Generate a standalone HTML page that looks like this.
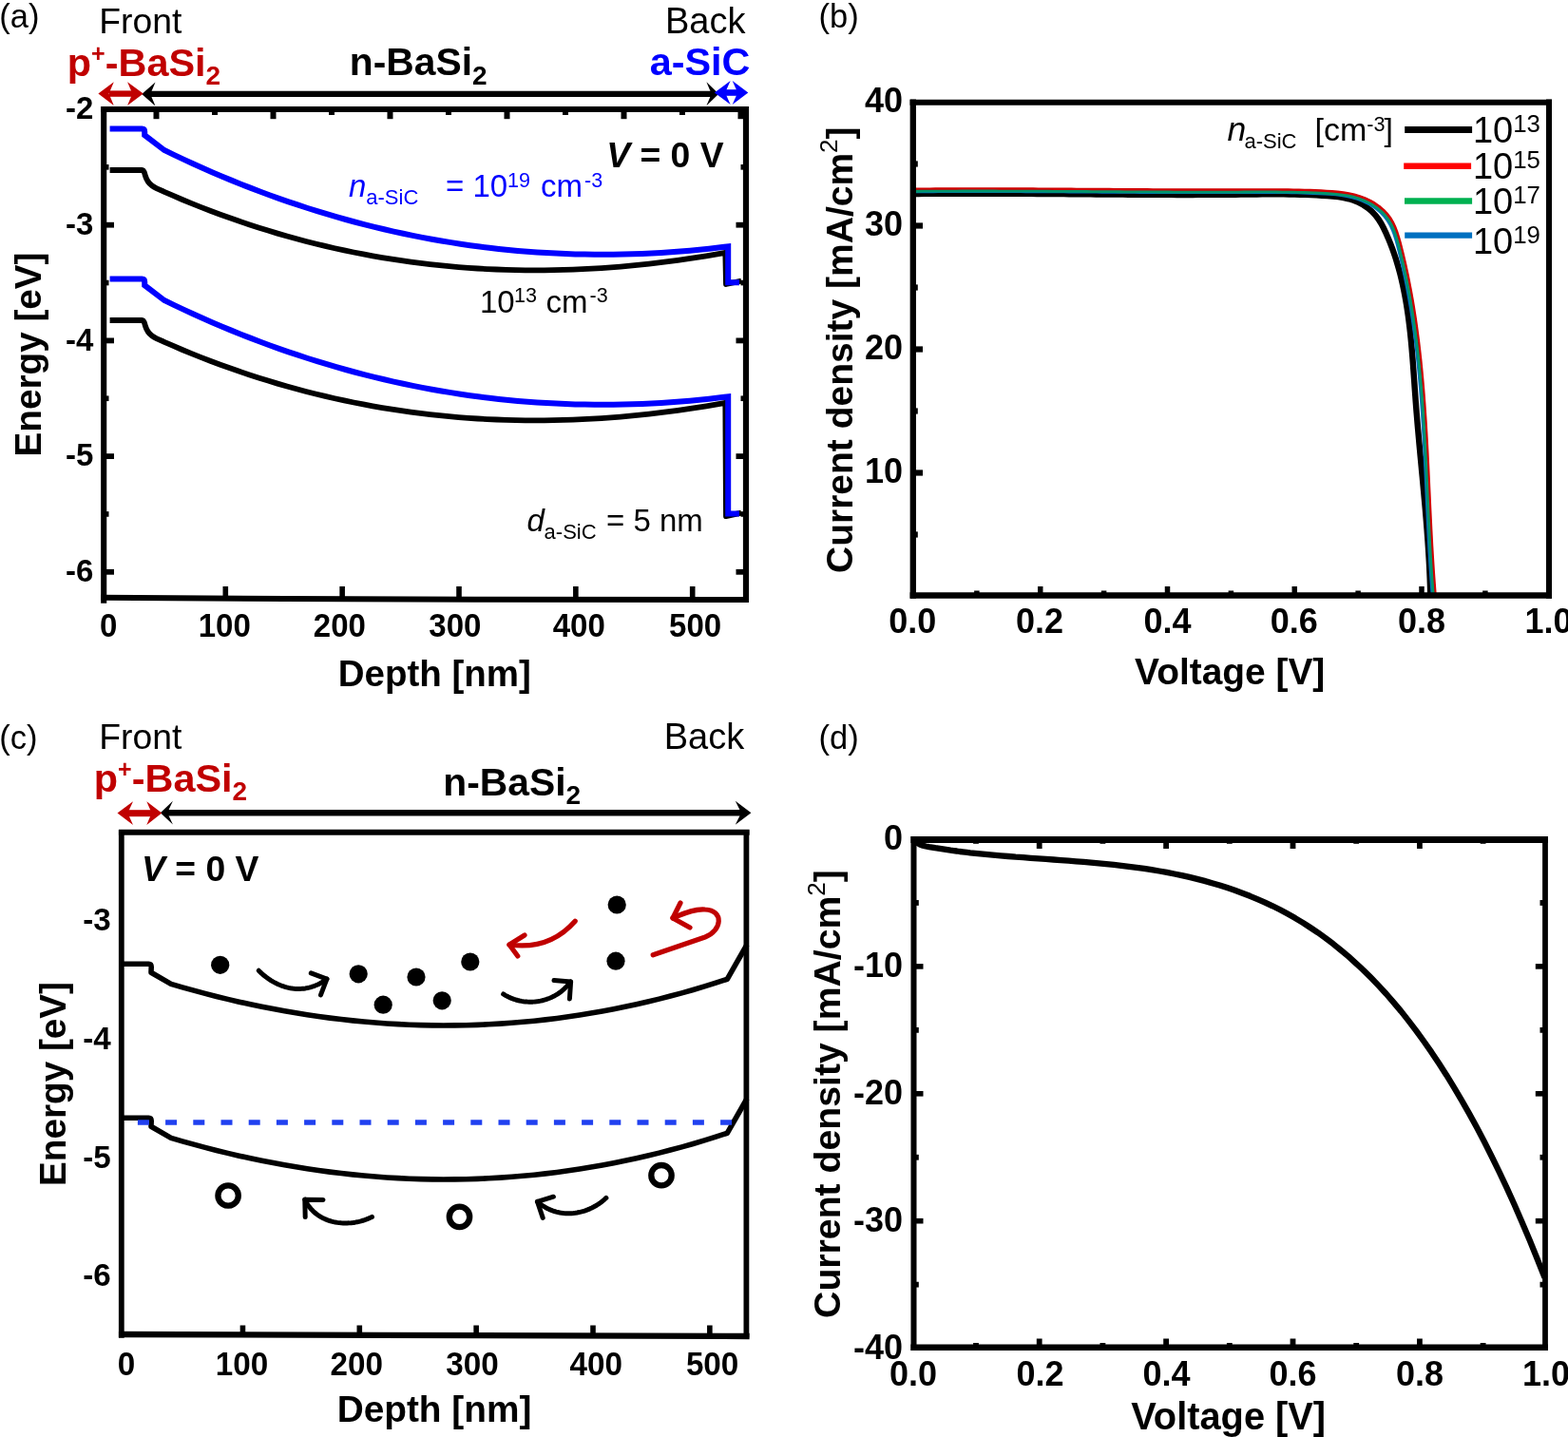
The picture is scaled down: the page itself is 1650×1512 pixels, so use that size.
<!DOCTYPE html>
<html><head><meta charset="utf-8"><title>Figure</title>
<style>
html,body{margin:0;padding:0;background:#fff;}
body{width:1650px;height:1512px;overflow:hidden;}
svg{display:block;}
text{font-family:'Liberation Sans', Arial, Helvetica, sans-serif;}
</style></head>
<body>
<svg width="1650" height="1512" viewBox="0 0 1650 1512">
<rect width="1650" height="1512" fill="#fff"/>
<path d="M115.6,179 L149.4,179 C151.6,179 152,182 152.8,184.6 C154,188.5 156,192.5 160,195.4 C163.5,198 167.5,199.6 171.7,201.2 L171.7,201.32 181.73,205.71 191.75,209.96 201.78,214.09 211.81,218.08 221.84,221.96 231.86,225.71 241.89,229.33 251.92,232.83 261.94,236.21 271.97,239.47 282,242.6 292.03,245.62 302.05,248.51 312.08,251.29 322.11,253.95 332.13,256.49 342.16,258.91 352.19,261.22 362.22,263.41 372.24,265.49 382.27,267.46 392.3,269.31 402.32,271.05 412.35,272.68 422.38,274.2 432.41,275.62 442.43,276.92 452.46,278.11 462.49,279.2 472.51,280.18 482.54,281.05 492.57,281.82 502.59,282.49 512.62,283.05 522.65,283.51 532.68,283.87 542.7,284.13 552.73,284.28 562.76,284.34 572.78,284.3 582.81,284.16 592.84,283.93 602.87,283.6 612.89,283.17 622.92,282.65 632.95,282.03 642.97,281.32 653,280.52 663.03,279.62 673.06,278.64 683.08,277.57 693.11,276.4 703.14,275.15 713.16,273.81 723.19,272.38 733.22,270.87 743.25,269.27 753.27,267.59 763.3,265.82 L764,299 L780,295.7" fill="none" stroke="#000" stroke-width="5.8" stroke-linejoin="round" stroke-linecap="butt" />
<path d="M115.6,337 L149.4,337 C151.6,337 152,340 152.8,342.6 C154,346.5 156,350.5 160,353.4 C163.5,356 167.5,357.6 171.7,359.2 L171.7,359.32 181.73,363.71 191.75,367.96 201.78,372.09 211.81,376.08 221.84,379.96 231.86,383.71 241.89,387.33 251.92,390.83 261.94,394.21 271.97,397.47 282,400.6 292.03,403.62 302.05,406.51 312.08,409.29 322.11,411.95 332.13,414.49 342.16,416.91 352.19,419.22 362.22,421.41 372.24,423.49 382.27,425.46 392.3,427.31 402.32,429.05 412.35,430.68 422.38,432.2 432.41,433.62 442.43,434.92 452.46,436.11 462.49,437.2 472.51,438.18 482.54,439.05 492.57,439.82 502.59,440.49 512.62,441.05 522.65,441.51 532.68,441.87 542.7,442.13 552.73,442.28 562.76,442.34 572.78,442.3 582.81,442.16 592.84,441.93 602.87,441.6 612.89,441.17 622.92,440.65 632.95,440.03 642.97,439.32 653,438.52 663.03,437.62 673.06,436.64 683.08,435.57 693.11,434.4 703.14,433.15 713.16,431.81 723.19,430.38 733.22,428.87 743.25,427.27 753.27,425.59 763.3,423.82 L764,543.2 L780,539.6" fill="none" stroke="#000" stroke-width="5.8" stroke-linejoin="round" stroke-linecap="butt" />
<path d="M115.6,135.6 L149.4,135.6 Q152.2,135.6 152.2,138.6 L152.2,142.2 L172.9,158.02 182.96,162.88 193.01,167.63 203.07,172.26 213.12,176.78 223.18,181.18 233.24,185.47 243.29,189.64 253.35,193.7 263.4,197.65 273.46,201.49 283.52,205.21 293.57,208.82 303.63,212.33 313.68,215.71 323.74,218.99 333.79,222.16 343.85,225.22 353.91,228.17 363.96,231.01 374.02,233.74 384.07,236.37 394.13,238.88 404.19,241.29 414.24,243.59 424.3,245.78 434.35,247.87 444.41,249.85 454.47,251.72 464.52,253.49 474.58,255.15 484.63,256.71 494.69,258.17 504.75,259.52 514.8,260.77 524.86,261.91 534.91,262.95 544.97,263.89 555.03,264.72 565.08,265.46 575.14,266.09 585.19,266.62 595.25,267.06 605.31,267.39 615.36,267.62 625.42,267.75 635.47,267.78 645.53,267.71 655.58,267.55 665.64,267.29 675.7,266.93 685.75,266.47 695.81,265.91 705.86,265.26 715.92,264.51 725.98,263.67 736.03,262.73 746.09,261.7 756.14,260.57 766.2,259.34 L766.2,297.2 L778,297.2" fill="none" stroke="#0000FF" stroke-width="6" stroke-linejoin="miter" stroke-linecap="butt" />
<path d="M115.6,293.6 L149.4,293.6 Q152.2,293.6 152.2,296.6 L152.2,300.2 L172.9,316.02 182.96,320.88 193.01,325.63 203.07,330.26 213.12,334.78 223.18,339.18 233.24,343.47 243.29,347.64 253.35,351.7 263.4,355.65 273.46,359.49 283.52,363.21 293.57,366.82 303.63,370.33 313.68,373.71 323.74,376.99 333.79,380.16 343.85,383.22 353.91,386.17 363.96,389.01 374.02,391.74 384.07,394.37 394.13,396.88 404.19,399.29 414.24,401.59 424.3,403.78 434.35,405.87 444.41,407.85 454.47,409.72 464.52,411.49 474.58,413.15 484.63,414.71 494.69,416.17 504.75,417.52 514.8,418.77 524.86,419.91 534.91,420.95 544.97,421.89 555.03,422.72 565.08,423.46 575.14,424.09 585.19,424.62 595.25,425.06 605.31,425.39 615.36,425.62 625.42,425.75 635.47,425.78 645.53,425.71 655.58,425.55 665.64,425.29 675.7,424.93 685.75,424.47 695.81,423.91 705.86,423.26 715.92,422.51 725.98,421.67 736.03,420.73 746.09,419.7 756.14,418.57 766.2,417.34 L766.2,540.4 L778,540.4" fill="none" stroke="#0000FF" stroke-width="6" stroke-linejoin="miter" stroke-linecap="butt" />
<line x1="109.2" y1="112" x2="109.2" y2="634.7" stroke="#000" stroke-width="6.1" stroke-linecap="butt"/>
<line x1="106.2" y1="115" x2="788" y2="115" stroke="#000" stroke-width="5.8" stroke-linecap="butt"/>
<line x1="785" y1="112" x2="785" y2="632" stroke="#000" stroke-width="6.2" stroke-linecap="butt"/>
<polyline points="106.2,628.8 300,630 500,630.8 788,631" fill="none" stroke="#000" stroke-width="6" stroke-linejoin="miter" stroke-linecap="butt" />
<line x1="237.3" y1="617" x2="237.3" y2="628" stroke="#000" stroke-width="5.6" stroke-linecap="butt"/>
<line x1="360.15" y1="617" x2="360.15" y2="628" stroke="#000" stroke-width="5.6" stroke-linecap="butt"/>
<line x1="483" y1="617" x2="483" y2="628" stroke="#000" stroke-width="5.6" stroke-linecap="butt"/>
<line x1="605.85" y1="617" x2="605.85" y2="628" stroke="#000" stroke-width="5.6" stroke-linecap="butt"/>
<line x1="728.7" y1="617" x2="728.7" y2="628" stroke="#000" stroke-width="5.6" stroke-linecap="butt"/>
<line x1="109.2" y1="236.7" x2="120" y2="236.7" stroke="#000" stroke-width="5.8" stroke-linecap="butt"/>
<line x1="774.5" y1="236.7" x2="785" y2="236.7" stroke="#000" stroke-width="5.8" stroke-linecap="butt"/>
<line x1="109.2" y1="358.4" x2="120" y2="358.4" stroke="#000" stroke-width="5.8" stroke-linecap="butt"/>
<line x1="774.5" y1="358.4" x2="785" y2="358.4" stroke="#000" stroke-width="5.8" stroke-linecap="butt"/>
<line x1="109.2" y1="480.1" x2="120" y2="480.1" stroke="#000" stroke-width="5.8" stroke-linecap="butt"/>
<line x1="774.5" y1="480.1" x2="785" y2="480.1" stroke="#000" stroke-width="5.8" stroke-linecap="butt"/>
<line x1="109.2" y1="601.8" x2="120" y2="601.8" stroke="#000" stroke-width="5.8" stroke-linecap="butt"/>
<line x1="774.5" y1="601.8" x2="785" y2="601.8" stroke="#000" stroke-width="5.8" stroke-linecap="butt"/>
<line x1="109.2" y1="175.85" x2="114.5" y2="175.85" stroke="#000" stroke-width="5.6" stroke-linecap="butt"/>
<line x1="779.5" y1="175.85" x2="785" y2="175.85" stroke="#000" stroke-width="5.6" stroke-linecap="butt"/>
<line x1="109.2" y1="297.55" x2="114.5" y2="297.55" stroke="#000" stroke-width="5.6" stroke-linecap="butt"/>
<line x1="779.5" y1="297.55" x2="785" y2="297.55" stroke="#000" stroke-width="5.6" stroke-linecap="butt"/>
<line x1="109.2" y1="419.25" x2="114.5" y2="419.25" stroke="#000" stroke-width="5.6" stroke-linecap="butt"/>
<line x1="779.5" y1="419.25" x2="785" y2="419.25" stroke="#000" stroke-width="5.6" stroke-linecap="butt"/>
<line x1="109.2" y1="540.95" x2="114.5" y2="540.95" stroke="#000" stroke-width="5.6" stroke-linecap="butt"/>
<line x1="779.5" y1="540.95" x2="785" y2="540.95" stroke="#000" stroke-width="5.6" stroke-linecap="butt"/>
<line x1="164.5" y1="115" x2="164.5" y2="125.2" stroke="#000" stroke-width="6" stroke-linecap="butt"/>
<line x1="226" y1="115" x2="226" y2="121" stroke="#000" stroke-width="6" stroke-linecap="butt"/>
<line x1="287.5" y1="115" x2="287.5" y2="125.2" stroke="#000" stroke-width="6" stroke-linecap="butt"/>
<line x1="349" y1="115" x2="349" y2="121" stroke="#000" stroke-width="6" stroke-linecap="butt"/>
<line x1="410.5" y1="115" x2="410.5" y2="125.2" stroke="#000" stroke-width="6" stroke-linecap="butt"/>
<line x1="472" y1="115" x2="472" y2="121" stroke="#000" stroke-width="6" stroke-linecap="butt"/>
<line x1="533.5" y1="115" x2="533.5" y2="125.2" stroke="#000" stroke-width="6" stroke-linecap="butt"/>
<line x1="595" y1="115" x2="595" y2="121" stroke="#000" stroke-width="6" stroke-linecap="butt"/>
<line x1="656.5" y1="115" x2="656.5" y2="125.2" stroke="#000" stroke-width="6" stroke-linecap="butt"/>
<line x1="718" y1="115" x2="718" y2="121" stroke="#000" stroke-width="6" stroke-linecap="butt"/>
<line x1="779.5" y1="115" x2="779.5" y2="125.2" stroke="#000" stroke-width="6" stroke-linecap="butt"/>
<text x="-0.8" y="28.8" font-size="34.5">(a)</text>
<text x="104.3" y="34.5" font-size="37.3">Front</text>
<text x="784.4" y="34.5" font-size="38" text-anchor="end">Back</text>
<line x1="158" y1="98.9" x2="750" y2="98.9" stroke="#000" stroke-width="6.2" stroke-linecap="butt"/>
<path d="M149.2,98.9 L163.5,86.4 L158.2,98.9 L163.5,111.4Z" fill="#000"/>
<path d="M756.3,98.8 L743.4,86.35 L748.7,98.8 L743.4,111.25Z" fill="#000"/>
<line x1="115" y1="98.6" x2="145" y2="98.6" stroke="#C00000" stroke-width="6.4" stroke-linecap="butt"/>
<path d="M103.4,98.6 L119.8,86.2 L114.6,98.6 L119.8,111Z" fill="#C00000"/>
<path d="M150.8,98.6 L134.1,86.2 L139.3,98.6 L134.1,111Z" fill="#C00000"/>
<line x1="762" y1="97.5" x2="777" y2="97.5" stroke="#0000FF" stroke-width="6.6" stroke-linecap="butt"/>
<path d="M751.8,97.5 L768.6,85 L763.1,97.5 L768.6,110Z" fill="#0000FF"/>
<path d="M787.3,97.5 L770.7,85 L776.2,97.5 L770.7,110Z" fill="#0000FF"/>
<text x="70.8" y="79.5" font-size="41.4" font-weight="bold" fill="#C00000">p<tspan font-size="25" dy="-15">+</tspan><tspan dy="15">-BaSi</tspan><tspan font-size="28" dy="9.5">2</tspan></text>
<text x="367.8" y="79.4" font-size="40.8" font-weight="bold">n-BaSi<tspan font-size="28" dy="9.5">2</tspan></text>
<text x="683.7" y="79.4" font-size="41.4" font-weight="bold" fill="#0000FF">a-SiC</text>
<text x="98.3" y="125.3" font-size="33" font-weight="bold" text-anchor="end">-2</text>
<text x="98.3" y="247" font-size="33" font-weight="bold" text-anchor="end">-3</text>
<text x="98.3" y="368.7" font-size="33" font-weight="bold" text-anchor="end">-4</text>
<text x="98.3" y="490.4" font-size="33" font-weight="bold" text-anchor="end">-5</text>
<text x="98.3" y="612.1" font-size="33" font-weight="bold" text-anchor="end">-6</text>
<text transform="translate(114.2,669.8) scale(1,1.065)" font-size="33" font-weight="bold" text-anchor="middle">0</text>
<text transform="translate(236.2,669.8) scale(1,1.065)" font-size="33" font-weight="bold" text-anchor="middle">100</text>
<text transform="translate(357.3,669.8) scale(1,1.065)" font-size="33" font-weight="bold" text-anchor="middle">200</text>
<text transform="translate(478.8,669.8) scale(1,1.065)" font-size="33" font-weight="bold" text-anchor="middle">300</text>
<text transform="translate(609.2,669.8) scale(1,1.065)" font-size="33" font-weight="bold" text-anchor="middle">400</text>
<text transform="translate(731.6,669.8) scale(1,1.065)" font-size="33" font-weight="bold" text-anchor="middle">500</text>
<text x="457.3" y="722.4" font-size="38.5" font-weight="bold" text-anchor="middle">Depth [nm]</text>
<text transform="translate(43.2,373) rotate(-90)" font-size="38.7" font-weight="bold" text-anchor="middle">Energy [eV]</text>
<text x="638.2" y="175.8" font-size="37.3" font-weight="bold"><tspan font-style="italic">V</tspan> = 0 V</text>
<text x="367" y="206.9" font-size="33" font-style="italic" fill="#0000FF">n</text>
<text x="385.3" y="214.6" font-size="22" fill="#0000FF">a-SiC</text>
<text x="469" y="206.9" font-size="33" fill="#0000FF">= 10</text>
<text x="534" y="197.4" font-size="21.5" fill="#0000FF">19</text>
<text x="569" y="206.9" font-size="33" fill="#0000FF">cm</text>
<text x="615" y="197.4" font-size="21.5" fill="#0000FF">-3</text>
<text x="505" y="328.5" font-size="33">10</text>
<text x="541" y="318" font-size="21.5">13</text>
<text x="574.5" y="328.5" font-size="33">cm</text>
<text x="620.5" y="318" font-size="21.5">-3</text>
<text x="554.5" y="558.7" font-size="33" font-style="italic">d</text>
<text x="572.6" y="566.8" font-size="22">a-SiC</text>
<text x="638" y="558.7" font-size="33">= 5 nm</text>
<path d="M961.01,204.03 966.64,203.96 972.26,203.91 977.89,203.86 983.53,203.81 989.16,203.78 994.8,203.75 1000.44,203.72 1006.08,203.7 1011.73,203.69 1017.38,203.68 1023.03,203.68 1028.68,203.68 1034.33,203.69 1039.99,203.7 1045.65,203.72 1051.3,203.73 1056.97,203.76 1062.63,203.78 1068.29,203.81 1073.96,203.84 1079.62,203.88 1085.29,203.92 1090.95,203.95 1096.62,204 1102.29,204.04 1107.96,204.08 1113.63,204.13 1119.3,204.17 1124.97,204.22 1130.64,204.27 1136.31,204.32 1141.98,204.36 1147.65,204.41 1153.32,204.46 1158.98,204.5 1164.65,204.55 1170.32,204.59 1175.99,204.63 1181.65,204.67 1187.32,204.71 1192.98,204.75 1198.64,204.78 1204.3,204.81 1209.96,204.84 1215.62,204.87 1221.27,204.89 1226.93,204.91 1232.58,204.92 1238.23,204.93 1243.88,204.94 1249.52,204.94 1255.17,204.93 1260.81,204.92 1266.44,204.91 1272.08,204.89 1277.71,204.86 1283.34,204.83 1288.97,204.79 1294.59,204.74 1300.21,204.69 1305.83,204.63 1311.44,204.57 1317.06,204.51 1322.68,204.46 1328.3,204.41 1333.93,204.38 1339.57,204.36 1345.21,204.37 1350.87,204.4 1356.54,204.46 1362.23,204.56 1367.93,204.69 1373.65,204.87 1379.39,205.09 1385.16,205.36 1390.95,205.68 1396.76,206.06 1402.59,206.53 1408.38,207.17 1414.07,208.07 1419.62,209.3 1424.97,210.96 1430.06,213.11 1434.88,215.76 1439.38,218.87 1443.53,222.43 1447.29,226.42 1450.65,230.81 1453.61,235.56 1456.25,240.57 1458.66,245.71 1460.93,250.91 1463.06,256.15 1465.07,261.43 1466.96,266.74 1468.73,272.08 1470.39,277.45 1471.94,282.85 1473.39,288.29 1474.74,293.75 1476,299.23 1477.17,304.74 1478.26,310.27 1479.27,315.82 1480.2,321.39 1481.06,326.98 1481.86,332.59 1482.6,338.21 1483.29,343.84 1483.93,349.49 1484.52,355.15 1485.07,360.81 1485.58,366.49 1486.06,372.17 1486.52,377.85 1486.95,383.54 1487.37,389.23 1487.78,394.92 1488.18,400.6 1488.57,406.29 1488.97,411.97 1489.38,417.64 1489.8,423.31 1490.23,428.97 1490.68,434.61 1491.15,440.26 1491.62,445.89 1492.11,451.52 1492.61,457.14 1493.11,462.76 1493.62,468.37 1494.14,473.98 1494.66,479.58 1495.19,485.18 1495.71,490.78 1496.24,496.38 1496.77,501.98 1497.29,507.57 1497.81,513.17 1498.32,518.77 1498.83,524.36 1499.33,529.97 1499.82,535.57 1500.29,541.18 1500.76,546.79 1501.21,552.4 1501.65,558.02 1502.07,563.65 1502.48,569.28 1502.86,574.92 1503.23,580.56 1503.57,586.22 1503.89,591.88 1504.19,597.55 1504.46,603.23 1504.7,608.93 1504.91,614.63 1505.1,620.34 1505.25,626.07" fill="none" stroke="#000" stroke-width="6.4" stroke-linejoin="round" stroke-linecap="butt" />
<path d="M961.52,200.13 967.19,200.07 972.88,200.02 978.56,199.98 984.25,199.94 989.94,199.91 995.64,199.88 1001.34,199.85 1007.04,199.84 1012.74,199.82 1018.45,199.81 1024.16,199.81 1029.87,199.8 1035.59,199.8 1041.3,199.81 1047.02,199.82 1052.74,199.83 1058.46,199.84 1064.19,199.86 1069.92,199.88 1075.64,199.91 1081.37,199.93 1087.1,199.96 1092.83,199.99 1098.56,200.02 1104.3,200.05 1110.03,200.09 1115.76,200.12 1121.5,200.16 1127.23,200.2 1132.97,200.23 1138.7,200.27 1144.44,200.31 1150.17,200.35 1155.9,200.39 1161.64,200.43 1167.37,200.47 1173.1,200.51 1178.83,200.55 1184.56,200.58 1190.29,200.62 1196.01,200.65 1201.74,200.69 1207.46,200.72 1213.18,200.75 1218.9,200.78 1224.62,200.8 1230.34,200.82 1236.05,200.85 1241.76,200.86 1247.47,200.88 1253.17,200.89 1258.88,200.9 1264.58,200.91 1270.27,200.91 1275.97,200.91 1281.66,200.9 1287.34,200.89 1293.02,200.88 1298.7,200.86 1304.38,200.84 1310.05,200.82 1315.72,200.79 1321.39,200.77 1327.07,200.76 1332.74,200.76 1338.43,200.77 1344.12,200.79 1349.81,200.84 1355.52,200.9 1361.24,201 1366.98,201.12 1372.73,201.28 1378.49,201.46 1384.28,201.69 1390.08,201.96 1395.9,202.28 1401.75,202.65 1407.59,203.14 1413.4,203.82 1419.15,204.76 1424.83,206.01 1430.39,207.64 1435.8,209.67 1440.99,212.08 1445.92,214.88 1450.53,218.06 1454.76,221.64 1458.57,225.59 1461.89,229.94 1464.7,234.65 1467.05,239.68 1469.05,244.95 1470.77,250.41 1472.31,255.96 1473.75,261.56 1475.14,267.17 1476.48,272.77 1477.77,278.39 1479.01,284.01 1480.21,289.63 1481.36,295.26 1482.46,300.89 1483.53,306.52 1484.55,312.16 1485.53,317.81 1486.47,323.46 1487.37,329.11 1488.24,334.76 1489.06,340.42 1489.86,346.08 1490.61,351.75 1491.34,357.42 1492.03,363.09 1492.7,368.76 1493.33,374.44 1493.94,380.12 1494.51,385.81 1495.06,391.49 1495.59,397.18 1496.09,402.87 1496.57,408.56 1497.03,414.26 1497.47,419.95 1497.89,425.65 1498.29,431.35 1498.67,437.05 1499.04,442.76 1499.39,448.46 1499.73,454.17 1500.05,459.87 1500.37,465.58 1500.67,471.29 1500.97,477 1501.25,482.71 1501.54,488.42 1501.81,494.13 1502.08,499.85 1502.35,505.56 1502.61,511.27 1502.87,516.98 1503.14,522.7 1503.4,528.41 1503.66,534.12 1503.93,539.83 1504.21,545.54 1504.49,551.25 1504.77,556.96 1505.07,562.67 1505.37,568.38 1505.68,574.08 1506.01,579.79 1506.35,585.49 1506.7,591.19 1507.06,596.89 1507.44,602.59 1507.84,608.29 1508.26,613.99 1508.69,619.68 1509.15,625.37" fill="none" stroke="#D00000" stroke-width="5.2" stroke-linejoin="round" stroke-linecap="butt" />
<path d="M959.42,202.03 965.09,201.97 970.78,201.92 976.46,201.88 982.15,201.84 987.84,201.81 993.54,201.78 999.24,201.75 1004.94,201.74 1010.64,201.72 1016.35,201.71 1022.06,201.71 1027.77,201.7 1033.49,201.7 1039.2,201.71 1044.92,201.72 1050.64,201.73 1056.36,201.74 1062.09,201.76 1067.82,201.78 1073.54,201.81 1079.27,201.83 1085,201.86 1090.73,201.89 1096.46,201.92 1102.2,201.95 1107.93,201.99 1113.66,202.02 1119.4,202.06 1125.13,202.1 1130.87,202.13 1136.6,202.17 1142.34,202.21 1148.07,202.25 1153.8,202.29 1159.54,202.33 1165.27,202.37 1171,202.41 1176.73,202.45 1182.46,202.48 1188.19,202.52 1193.91,202.55 1199.64,202.59 1205.36,202.62 1211.08,202.65 1216.8,202.68 1222.52,202.7 1228.24,202.72 1233.95,202.75 1239.66,202.76 1245.37,202.78 1251.07,202.79 1256.78,202.8 1262.48,202.81 1268.17,202.81 1273.87,202.81 1279.56,202.8 1285.24,202.79 1290.92,202.78 1296.6,202.76 1302.28,202.74 1307.95,202.72 1313.62,202.69 1319.29,202.67 1324.97,202.66 1330.64,202.66 1336.33,202.67 1342.02,202.69 1347.71,202.74 1353.42,202.8 1359.14,202.9 1364.88,203.02 1370.63,203.18 1376.39,203.36 1382.18,203.59 1387.98,203.86 1393.8,204.18 1399.65,204.55 1405.49,205.04 1411.3,205.72 1417.05,206.66 1422.73,207.91 1428.29,209.54 1433.7,211.57 1438.89,213.98 1443.82,216.78 1448.43,219.96 1452.66,223.54 1456.47,227.49 1459.79,231.84 1462.6,236.55 1464.95,241.58 1466.95,246.85 1468.67,252.31 1470.21,257.86 1471.65,263.46 1473.04,269.07 1474.38,274.67 1475.67,280.29 1476.91,285.91 1478.11,291.53 1479.26,297.16 1480.36,302.79 1481.43,308.42 1482.45,314.06 1483.43,319.71 1484.37,325.36 1485.27,331.01 1486.14,336.66 1486.96,342.32 1487.76,347.98 1488.51,353.65 1489.24,359.32 1489.93,364.99 1490.6,370.66 1491.23,376.34 1491.84,382.02 1492.41,387.71 1492.96,393.39 1493.49,399.08 1493.99,404.77 1494.47,410.46 1494.93,416.16 1495.37,421.85 1495.79,427.55 1496.19,433.25 1496.57,438.95 1496.94,444.66 1497.29,450.36 1497.63,456.07 1497.95,461.77 1498.27,467.48 1498.57,473.19 1498.87,478.9 1499.15,484.61 1499.44,490.32 1499.71,496.03 1499.98,501.75 1500.25,507.46 1500.51,513.17 1500.77,518.88 1501.04,524.6 1501.3,530.31 1501.56,536.02 1501.83,541.73 1502.11,547.44 1502.39,553.15 1502.67,558.86 1502.97,564.57 1503.27,570.28 1503.58,575.98 1503.91,581.69 1504.25,587.39 1504.6,593.09 1504.96,598.79 1505.34,604.49 1505.74,610.19 1506.16,615.89 1506.59,621.58 1507.05,627.27" fill="none" stroke="#0070C0" stroke-width="2.6" stroke-linejoin="round" stroke-linecap="butt" />
<path d="M960.72,201.33 966.39,201.27 972.08,201.22 977.76,201.18 983.45,201.14 989.14,201.11 994.84,201.08 1000.54,201.05 1006.24,201.04 1011.94,201.02 1017.65,201.01 1023.36,201.01 1029.07,201 1034.79,201 1040.5,201.01 1046.22,201.02 1051.94,201.03 1057.66,201.04 1063.39,201.06 1069.12,201.08 1074.84,201.11 1080.57,201.13 1086.3,201.16 1092.03,201.19 1097.76,201.22 1103.5,201.25 1109.23,201.29 1114.96,201.32 1120.7,201.36 1126.43,201.4 1132.17,201.43 1137.9,201.47 1143.64,201.51 1149.37,201.55 1155.1,201.59 1160.84,201.63 1166.57,201.67 1172.3,201.71 1178.03,201.75 1183.76,201.78 1189.49,201.82 1195.21,201.85 1200.94,201.89 1206.66,201.92 1212.38,201.95 1218.1,201.98 1223.82,202 1229.54,202.02 1235.25,202.05 1240.96,202.06 1246.67,202.08 1252.37,202.09 1258.08,202.1 1263.78,202.11 1269.47,202.11 1275.17,202.11 1280.86,202.1 1286.54,202.09 1292.22,202.08 1297.9,202.06 1303.58,202.04 1309.25,202.02 1314.92,201.99 1320.59,201.97 1326.27,201.96 1331.94,201.96 1337.63,201.97 1343.32,201.99 1349.01,202.04 1354.72,202.1 1360.44,202.2 1366.18,202.32 1371.93,202.48 1377.69,202.66 1383.48,202.89 1389.28,203.16 1395.1,203.48 1400.95,203.85 1406.79,204.34 1412.6,205.02 1418.35,205.96 1424.03,207.21 1429.59,208.84 1435,210.87 1440.19,213.28 1445.12,216.08 1449.73,219.26 1453.96,222.84 1457.77,226.79 1461.09,231.14 1463.9,235.85 1466.25,240.88 1468.25,246.15 1469.97,251.61 1471.51,257.16 1472.95,262.76 1474.34,268.37 1475.68,273.97 1476.97,279.59 1478.21,285.21 1479.41,290.83 1480.56,296.46 1481.66,302.09 1482.73,307.72 1483.75,313.36 1484.73,319.01 1485.67,324.66 1486.57,330.31 1487.44,335.96 1488.26,341.62 1489.06,347.28 1489.81,352.95 1490.54,358.62 1491.23,364.29 1491.9,369.96 1492.53,375.64 1493.14,381.32 1493.71,387.01 1494.26,392.69 1494.79,398.38 1495.29,404.07 1495.77,409.76 1496.23,415.46 1496.67,421.15 1497.09,426.85 1497.49,432.55 1497.87,438.25 1498.24,443.96 1498.59,449.66 1498.93,455.37 1499.25,461.07 1499.57,466.78 1499.87,472.49 1500.17,478.2 1500.45,483.91 1500.74,489.62 1501.01,495.33 1501.28,501.05 1501.55,506.76 1501.81,512.47 1502.07,518.18 1502.34,523.9 1502.6,529.61 1502.86,535.32 1503.13,541.03 1503.41,546.74 1503.69,552.45 1503.97,558.16 1504.27,563.87 1504.57,569.58 1504.88,575.28 1505.21,580.99 1505.55,586.69 1505.9,592.39 1506.26,598.09 1506.64,603.79 1507.04,609.49 1507.46,615.19 1507.89,620.88 1508.35,626.57" fill="none" stroke="#00956A" stroke-width="2.8" stroke-linejoin="round" stroke-linecap="butt" />
<line x1="960.8" y1="104.5" x2="960.8" y2="629.8" stroke="#000" stroke-width="6.3" stroke-linecap="butt"/>
<line x1="957.6" y1="107.7" x2="1633" y2="107.7" stroke="#000" stroke-width="6" stroke-linecap="butt"/>
<line x1="1630" y1="104.5" x2="1630" y2="629.8" stroke="#000" stroke-width="6.1" stroke-linecap="butt"/>
<line x1="957.6" y1="626.5" x2="1633" y2="626.5" stroke="#000" stroke-width="6.6" stroke-linecap="butt"/>
<line x1="960.8" y1="497.5" x2="971" y2="497.5" stroke="#000" stroke-width="6.2" stroke-linecap="butt"/>
<line x1="960.8" y1="367.5" x2="971" y2="367.5" stroke="#000" stroke-width="6.2" stroke-linecap="butt"/>
<line x1="960.8" y1="237.5" x2="971" y2="237.5" stroke="#000" stroke-width="6.2" stroke-linecap="butt"/>
<line x1="960.8" y1="562.5" x2="965.8" y2="562.5" stroke="#000" stroke-width="6.2" stroke-linecap="butt"/>
<line x1="960.8" y1="432.5" x2="965.8" y2="432.5" stroke="#000" stroke-width="6.2" stroke-linecap="butt"/>
<line x1="960.8" y1="302.5" x2="965.8" y2="302.5" stroke="#000" stroke-width="6.2" stroke-linecap="butt"/>
<line x1="960.8" y1="172.5" x2="965.8" y2="172.5" stroke="#000" stroke-width="6.2" stroke-linecap="butt"/>
<line x1="1094.75" y1="617" x2="1094.75" y2="626.5" stroke="#000" stroke-width="5.5" stroke-linecap="butt"/>
<line x1="1228.5" y1="617" x2="1228.5" y2="626.5" stroke="#000" stroke-width="5.5" stroke-linecap="butt"/>
<line x1="1362.25" y1="617" x2="1362.25" y2="626.5" stroke="#000" stroke-width="5.5" stroke-linecap="butt"/>
<line x1="1496" y1="617" x2="1496" y2="626.5" stroke="#000" stroke-width="5.5" stroke-linecap="butt"/>
<line x1="1027.88" y1="621.5" x2="1027.88" y2="626.5" stroke="#000" stroke-width="5.5" stroke-linecap="butt"/>
<line x1="1161.62" y1="621.5" x2="1161.62" y2="626.5" stroke="#000" stroke-width="5.5" stroke-linecap="butt"/>
<line x1="1295.38" y1="621.5" x2="1295.38" y2="626.5" stroke="#000" stroke-width="5.5" stroke-linecap="butt"/>
<line x1="1429.12" y1="621.5" x2="1429.12" y2="626.5" stroke="#000" stroke-width="5.5" stroke-linecap="butt"/>
<line x1="1562.88" y1="621.5" x2="1562.88" y2="626.5" stroke="#000" stroke-width="5.5" stroke-linecap="butt"/>
<text x="861.6" y="29" font-size="34.5">(b)</text>
<text x="950" y="508.3" font-size="36" font-weight="bold" text-anchor="end">10</text>
<text x="950" y="378.3" font-size="36" font-weight="bold" text-anchor="end">20</text>
<text x="950" y="248.3" font-size="36" font-weight="bold" text-anchor="end">30</text>
<text x="950" y="118.3" font-size="36" font-weight="bold" text-anchor="end">40</text>
<text x="960.2" y="666.3" font-size="36" font-weight="bold" text-anchor="middle">0.0</text>
<text x="1094.1" y="666.3" font-size="36" font-weight="bold" text-anchor="middle">0.2</text>
<text x="1228.4" y="666.3" font-size="36" font-weight="bold" text-anchor="middle">0.4</text>
<text x="1361.8" y="666.3" font-size="36" font-weight="bold" text-anchor="middle">0.6</text>
<text x="1496" y="666.3" font-size="36" font-weight="bold" text-anchor="middle">0.8</text>
<text x="1629.5" y="666.3" font-size="36" font-weight="bold" text-anchor="middle">1.0</text>
<text x="1294.2" y="719.9" font-size="38.9" font-weight="bold" text-anchor="middle">Voltage [V]</text>
<text transform="translate(896.8,368.2) rotate(-90)" font-size="39" font-weight="bold" text-anchor="middle">Current density [mA/cm<tspan font-size="26" font-weight="normal" dy="-16">2</tspan><tspan dy="16">]</tspan></text>
<line x1="1478.2" y1="136.4" x2="1549.1" y2="136.4" stroke="#000" stroke-width="7" stroke-linecap="butt"/>
<line x1="1477.2" y1="174.8" x2="1548.1" y2="174.8" stroke="#FF0000" stroke-width="6.4" stroke-linecap="butt"/>
<line x1="1478" y1="211.5" x2="1549.1" y2="211.5" stroke="#00B050" stroke-width="6.4" stroke-linecap="butt"/>
<line x1="1478.2" y1="247.6" x2="1549.1" y2="247.6" stroke="#0070C0" stroke-width="6.4" stroke-linecap="butt"/>
<text x="1549.9" y="149.8" font-size="38">10</text>
<text x="1592.2" y="138.6" font-size="25.8">13</text>
<text x="1549.9" y="188.4" font-size="38">10</text>
<text x="1592.2" y="177.2" font-size="25.8">15</text>
<text x="1549.9" y="225.1" font-size="38">10</text>
<text x="1592.2" y="213.9" font-size="25.8">17</text>
<text x="1549.9" y="266.7" font-size="38">10</text>
<text x="1592.2" y="255.5" font-size="25.8">19</text>
<text x="1291.5" y="148.2" font-size="35.5" font-style="italic">n</text>
<text x="1309.5" y="155.9" font-size="22">a-SiC</text>
<text x="1383.5" y="148.4" font-size="34">[cm</text>
<text x="1438.2" y="138" font-size="21.6">-3</text>
<text x="1456.5" y="148.4" font-size="34">]</text>
<path d="M129,1014.2 L156.5,1014.2 Q159.2,1014.2 159.2,1017.5 L159,1023.2 L180,1035.32 191.94,1038.82 203.89,1042.17 215.83,1045.38 227.77,1048.45 239.71,1051.37 251.66,1054.15 263.6,1056.78 275.54,1059.27 287.49,1061.61 299.43,1063.81 311.37,1065.86 323.31,1067.77 335.26,1069.52 347.2,1071.13 359.14,1072.59 371.09,1073.9 383.03,1075.06 394.97,1076.07 406.91,1076.93 418.86,1077.64 430.8,1078.19 442.74,1078.6 454.69,1078.85 466.63,1078.95 478.57,1078.9 490.51,1078.69 502.46,1078.33 514.4,1077.81 526.34,1077.14 538.29,1076.31 550.23,1075.32 562.17,1074.18 574.11,1072.88 586.06,1071.42 598,1069.81 609.94,1068.03 621.89,1066.1 633.83,1064 645.77,1061.75 657.71,1059.33 669.66,1056.76 681.6,1054.02 693.54,1051.12 705.49,1048.05 717.43,1044.83 729.37,1041.44 741.31,1037.88 753.26,1034.16 765.2,1030.28 L786,994" fill="none" stroke="#000" stroke-width="5.6" stroke-linejoin="round" stroke-linecap="butt" />
<path d="M129,1176.2 L156.5,1176.2 Q159.2,1176.2 159.2,1179.5 L159,1185.2 L180,1197.32 191.94,1200.82 203.89,1204.17 215.83,1207.38 227.77,1210.45 239.71,1213.37 251.66,1216.15 263.6,1218.78 275.54,1221.27 287.49,1223.61 299.43,1225.81 311.37,1227.86 323.31,1229.77 335.26,1231.52 347.2,1233.13 359.14,1234.59 371.09,1235.9 383.03,1237.06 394.97,1238.07 406.91,1238.93 418.86,1239.64 430.8,1240.19 442.74,1240.6 454.69,1240.85 466.63,1240.95 478.57,1240.9 490.51,1240.69 502.46,1240.33 514.4,1239.81 526.34,1239.14 538.29,1238.31 550.23,1237.32 562.17,1236.18 574.11,1234.88 586.06,1233.42 598,1231.81 609.94,1230.03 621.89,1228.1 633.83,1226 645.77,1223.75 657.71,1221.33 669.66,1218.76 681.6,1216.02 693.54,1213.12 705.49,1210.05 717.43,1206.83 729.37,1203.44 741.31,1199.88 753.26,1196.16 765.2,1192.28 L786,1156" fill="none" stroke="#000" stroke-width="5.6" stroke-linejoin="round" stroke-linecap="butt" />
<line x1="144.9" y1="1181" x2="786" y2="1181" stroke="#2040F0" stroke-width="5.3" stroke-dasharray="12 17.2"/>
<line x1="127.8" y1="873.6" x2="127.8" y2="1407.8" stroke="#000" stroke-width="5.8" stroke-linecap="butt"/>
<line x1="124.9" y1="875.8" x2="788.6" y2="875.8" stroke="#000" stroke-width="5.9" stroke-linecap="butt"/>
<line x1="785.4" y1="873.6" x2="785.4" y2="1407.5" stroke="#000" stroke-width="5.8" stroke-linecap="butt"/>
<polyline points="124.9,1404 400,1404.8 788.6,1406" fill="none" stroke="#000" stroke-width="6.3" stroke-linejoin="miter" stroke-linecap="butt" />
<line x1="255.45" y1="1394.5" x2="255.45" y2="1404" stroke="#000" stroke-width="5.6" stroke-linecap="butt"/>
<line x1="378.3" y1="1394.5" x2="378.3" y2="1404" stroke="#000" stroke-width="5.6" stroke-linecap="butt"/>
<line x1="501.15" y1="1394.5" x2="501.15" y2="1404" stroke="#000" stroke-width="5.6" stroke-linecap="butt"/>
<line x1="624" y1="1394.5" x2="624" y2="1404" stroke="#000" stroke-width="5.6" stroke-linecap="butt"/>
<line x1="746.85" y1="1394.5" x2="746.85" y2="1404" stroke="#000" stroke-width="5.6" stroke-linecap="butt"/>
<circle cx="231.7" cy="1015.3" r="9.6"/>
<circle cx="377.2" cy="1024.8" r="9.6"/>
<circle cx="403.2" cy="1057.2" r="9.6"/>
<circle cx="438" cy="1028" r="9.6"/>
<circle cx="465.2" cy="1052.8" r="9.6"/>
<circle cx="494.8" cy="1012" r="9.6"/>
<circle cx="649.2" cy="952" r="9.6"/>
<circle cx="648" cy="1011.2" r="9.6"/>
<circle cx="240.1" cy="1258" r="10.7" fill="none" stroke="#000" stroke-width="6.3"/>
<circle cx="483.5" cy="1280.4" r="10.7" fill="none" stroke="#000" stroke-width="6.3"/>
<circle cx="696" cy="1236.7" r="10.7" fill="none" stroke="#000" stroke-width="6.3"/>
<path d="M272.21,1021.21 273.67,1022.67 275.18,1024.09 276.73,1025.46 278.32,1026.79 279.94,1028.07 281.61,1029.29 283.3,1030.47 285.03,1031.58 286.79,1032.65 288.58,1033.65 290.39,1034.59 292.23,1035.48 294.09,1036.29 295.97,1037.04 297.88,1037.72 299.79,1038.33 301.72,1038.87 303.67,1039.34 305.63,1039.72 307.59,1040.03 309.56,1040.26 311.54,1040.41 313.52,1040.47 315.5,1040.46 317.49,1040.35 319.46,1040.17 321.44,1039.9 323.4,1039.55 325.36,1039.11 327.3,1038.59 329.23,1037.98 331.14,1037.29 333.04,1036.51 334.91,1035.65 336.77,1034.71 338.6,1033.67 340.4,1032.55 342.17,1031.35 343.9,1030.2" fill="none" stroke="#000" stroke-width="5" stroke-linejoin="round" stroke-linecap="round" />
<path d="M327.3,1023.8 L343.9,1030.2 L337.5,1046.8" fill="none" stroke="#000" stroke-width="5" stroke-linejoin="round" stroke-linecap="round" />
<path d="M529.67,1045.99 531.45,1047.08 533.28,1048.09 535.13,1049.03 537.01,1049.88 538.91,1050.66 540.84,1051.36 542.78,1051.98 544.75,1052.53 546.72,1052.99 548.71,1053.38 550.72,1053.7 552.72,1053.94 554.74,1054.1 556.75,1054.19 558.77,1054.2 560.78,1054.13 562.78,1054 564.78,1053.78 566.77,1053.5 568.75,1053.14 570.71,1052.71 572.65,1052.2 574.57,1051.62 576.47,1050.97 578.34,1050.25 580.19,1049.46 582,1048.59 583.79,1047.66 585.53,1046.65 587.24,1045.57 588.91,1044.42 590.53,1043.21 592.11,1041.92 593.64,1040.56 595.12,1039.14 596.54,1037.65 597.92,1036.09 599.23,1034.46 600.6,1033" fill="none" stroke="#000" stroke-width="5" stroke-linejoin="round" stroke-linecap="round" />
<path d="M583,1031.5 L600.6,1033 L599.4,1050.9" fill="none" stroke="#000" stroke-width="5" stroke-linejoin="round" stroke-linecap="round" />
<path d="M605.2,969.2 Q578,1000 536,994" fill="none" stroke="#C00000" stroke-width="5.2" stroke-linejoin="round" stroke-linecap="round" />
<path d="M552,984 L536,994 L544.8,1006" fill="none" stroke="#C00000" stroke-width="5.2" stroke-linejoin="round" stroke-linecap="round" />
<path d="M687.2,1004.8 L742,986 C760,979 762,958 742,957 C730,956 718,962 708,966" fill="none" stroke="#C00000" stroke-width="5.2" stroke-linejoin="round" stroke-linecap="round" />
<path d="M716,950 L708,966 L726,976" fill="none" stroke="#C00000" stroke-width="5.2" stroke-linejoin="round" stroke-linecap="round" />
<path d="M391.44,1280.41 389.59,1281.31 387.69,1282.14 385.77,1282.91 383.81,1283.61 381.82,1284.25 379.81,1284.83 377.77,1285.34 375.72,1285.78 373.66,1286.16 371.58,1286.46 369.49,1286.7 367.4,1286.87 365.3,1286.97 363.21,1286.99 361.12,1286.94 359.04,1286.82 356.97,1286.63 354.92,1286.36 352.88,1286.02 350.86,1285.6 348.87,1285.1 346.9,1284.52 344.97,1283.87 343.07,1283.14 341.2,1282.32 339.38,1281.43 337.59,1280.45 335.86,1279.39 334.17,1278.25 332.54,1277.03 330.96,1275.71 329.45,1274.32 327.99,1272.84 326.6,1271.27 325.28,1269.61 324.04,1267.86 322.87,1266.03 321.77,1264.1 320.8,1262.2" fill="none" stroke="#000" stroke-width="5" stroke-linejoin="round" stroke-linecap="round" />
<path d="M340,1262.4 L320.8,1262.2 L321.2,1280.6" fill="none" stroke="#000" stroke-width="5" stroke-linejoin="round" stroke-linecap="round" />
<path d="M637.89,1260.36 636.36,1261.79 634.78,1263.15 633.16,1264.46 631.5,1265.7 629.8,1266.88 628.07,1268 626.3,1269.06 624.5,1270.05 622.66,1270.98 620.8,1271.84 618.92,1272.64 617.01,1273.36 615.09,1274.02 613.14,1274.61 611.18,1275.13 609.2,1275.58 607.22,1275.95 605.23,1276.25 603.23,1276.48 601.22,1276.64 599.22,1276.71 597.21,1276.72 595.21,1276.64 593.21,1276.49 591.22,1276.26 589.24,1275.94 587.28,1275.55 585.32,1275.08 583.39,1274.52 581.47,1273.88 579.58,1273.16 577.71,1272.35 575.87,1271.45 574.05,1270.47 572.27,1269.4 570.52,1268.24 568.8,1267 567.12,1265.66 565.5,1264.4" fill="none" stroke="#000" stroke-width="5" stroke-linejoin="round" stroke-linecap="round" />
<path d="M582.4,1259.2 L565.5,1264.4 L571.2,1281.4" fill="none" stroke="#000" stroke-width="5" stroke-linejoin="round" stroke-linecap="round" />
<text x="-0.8" y="787.5" font-size="34.5">(c)</text>
<text x="104.3" y="787.8" font-size="37.3">Front</text>
<text x="783.2" y="787.8" font-size="38" text-anchor="end">Back</text>
<line x1="175.5" y1="855.3" x2="781" y2="855.3" stroke="#000" stroke-width="6.4" stroke-linecap="butt"/>
<path d="M168.8,855.2 L181.9,842.85 L176.1,855.2 L181.9,867.55Z" fill="#000"/>
<path d="M790.4,855.3 L773.8,842.85 L780,855.3 L773.8,867.75Z" fill="#000"/>
<line x1="134" y1="855.7" x2="160" y2="855.7" stroke="#C00000" stroke-width="7" stroke-linecap="butt"/>
<path d="M123.5,855.6 L140,843.2 L134.4,855.6 L140,868Z" fill="#C00000"/>
<path d="M170.3,855.6 L154.3,843.2 L159.6,855.6 L154.3,868Z" fill="#C00000"/>
<text x="98.8" y="832.9" font-size="41.4" font-weight="bold" fill="#C00000">p<tspan font-size="25" dy="-15">+</tspan><tspan dy="15">-BaSi</tspan><tspan font-size="28" dy="9.5">2</tspan></text>
<text x="466.3" y="836.7" font-size="40.8" font-weight="bold">n-BaSi<tspan font-size="28" dy="9.5">2</tspan></text>
<text x="149" y="927.1" font-size="37.3" font-weight="bold"><tspan font-style="italic">V</tspan> = 0 V</text>
<text x="116.8" y="979.3" font-size="33.2" font-weight="bold" text-anchor="end">-3</text>
<text x="116.8" y="1103.9" font-size="33.2" font-weight="bold" text-anchor="end">-4</text>
<text x="116.8" y="1228.5" font-size="33.2" font-weight="bold" text-anchor="end">-5</text>
<text x="116.8" y="1353.1" font-size="33.2" font-weight="bold" text-anchor="end">-6</text>
<text transform="translate(132.9,1446.5) scale(1,1.06)" font-size="33.2" font-weight="bold" text-anchor="middle">0</text>
<text transform="translate(254.4,1446.5) scale(1,1.06)" font-size="33.2" font-weight="bold" text-anchor="middle">100</text>
<text transform="translate(375.2,1446.5) scale(1,1.06)" font-size="33.2" font-weight="bold" text-anchor="middle">200</text>
<text transform="translate(497,1446.5) scale(1,1.06)" font-size="33.2" font-weight="bold" text-anchor="middle">300</text>
<text transform="translate(627.3,1446.5) scale(1,1.06)" font-size="33.2" font-weight="bold" text-anchor="middle">400</text>
<text transform="translate(749.6,1446.5) scale(1,1.06)" font-size="33.2" font-weight="bold" text-anchor="middle">500</text>
<text x="457" y="1495.5" font-size="38.8" font-weight="bold" text-anchor="middle">Depth [nm]</text>
<text transform="translate(69.2,1140.5) rotate(-90)" font-size="38.7" font-weight="bold" text-anchor="middle">Energy [eV]</text>
<polyline points="961.5,883.9 964.7,886.6 968.0,888.5 971.2,889.7 974.4,890.5 977.7,891.1 980.9,891.6 984.1,892.2 987.4,892.7 990.6,893.2 993.8,893.7 997.1,894.2 1000.3,894.7 1003.5,895.1 1006.8,895.5 1010.0,896.0 1013.0,896.3 1021.0,897.3 1028.9,898.1 1036.9,898.9 1044.8,899.7 1052.8,900.4 1060.7,901.0 1068.7,901.7 1076.6,902.2 1084.6,902.8 1092.5,903.4 1100.5,903.9 1108.5,904.5 1116.4,905.1 1124.4,905.7 1132.3,906.3 1140.3,906.9 1148.2,907.6 1156.2,908.3 1164.1,909.1 1172.1,909.9 1180.0,910.8 1188.0,911.8 1196.0,912.8 1203.9,913.9 1211.9,915.2 1219.8,916.5 1227.8,917.9 1235.7,919.5 1243.7,921.1 1251.6,922.9 1259.6,924.9 1267.5,926.9 1275.5,929.2 1283.5,931.5 1291.4,934.1 1299.4,936.8 1307.3,939.7 1315.3,942.8 1323.2,946.1 1331.2,949.6 1339.1,953.3 1347.1,957.3 1355.0,961.6 1363.0,966.1 1371.0,970.9 1378.9,976.0 1386.9,981.3 1394.8,987.0 1402.8,993.1 1410.7,999.5 1418.7,1006.2 1426.6,1013.3 1434.6,1020.7 1442.5,1028.6 1450.5,1036.9 1458.5,1045.5 1466.4,1054.6 1474.4,1064.1 1482.3,1074.1 1490.3,1084.6 1498.2,1095.5 1506.2,1106.9 1514.1,1118.8 1522.1,1131.2 1530.0,1144.1 1538.0,1157.6 1546.0,1171.6 1553.9,1186.1 1561.9,1201.3 1569.8,1217.0 1577.8,1233.3 1585.7,1250.2 1593.7,1267.8 1601.6,1285.9 1609.6,1304.7 1617.5,1324.2 1625.5,1344.3" fill="none" stroke="#000" stroke-width="6.3" stroke-linejoin="round"/>
<line x1="961.5" y1="880" x2="961.5" y2="1421" stroke="#000" stroke-width="6" stroke-linecap="butt"/>
<line x1="958.4" y1="883.5" x2="1629" y2="883.5" stroke="#000" stroke-width="7" stroke-linecap="butt"/>
<line x1="1626" y1="880" x2="1626" y2="1421" stroke="#000" stroke-width="5.8" stroke-linecap="butt"/>
<line x1="958.4" y1="1417.7" x2="1629" y2="1417.7" stroke="#000" stroke-width="6.6" stroke-linecap="butt"/>
<line x1="961.5" y1="1016.9" x2="971.5" y2="1016.9" stroke="#000" stroke-width="5.6" stroke-linecap="butt"/>
<line x1="1615.8" y1="1016.9" x2="1626" y2="1016.9" stroke="#000" stroke-width="5.6" stroke-linecap="butt"/>
<line x1="961.5" y1="1150.8" x2="971.5" y2="1150.8" stroke="#000" stroke-width="5.6" stroke-linecap="butt"/>
<line x1="1615.8" y1="1150.8" x2="1626" y2="1150.8" stroke="#000" stroke-width="5.6" stroke-linecap="butt"/>
<line x1="961.5" y1="1284.7" x2="971.5" y2="1284.7" stroke="#000" stroke-width="5.6" stroke-linecap="butt"/>
<line x1="1615.8" y1="1284.7" x2="1626" y2="1284.7" stroke="#000" stroke-width="5.6" stroke-linecap="butt"/>
<line x1="961.5" y1="949.95" x2="966.8" y2="949.95" stroke="#000" stroke-width="5.8" stroke-linecap="butt"/>
<line x1="1620.5" y1="949.95" x2="1626" y2="949.95" stroke="#000" stroke-width="5.8" stroke-linecap="butt"/>
<line x1="961.5" y1="1083.85" x2="966.8" y2="1083.85" stroke="#000" stroke-width="5.8" stroke-linecap="butt"/>
<line x1="1620.5" y1="1083.85" x2="1626" y2="1083.85" stroke="#000" stroke-width="5.8" stroke-linecap="butt"/>
<line x1="961.5" y1="1217.75" x2="966.8" y2="1217.75" stroke="#000" stroke-width="5.8" stroke-linecap="butt"/>
<line x1="1620.5" y1="1217.75" x2="1626" y2="1217.75" stroke="#000" stroke-width="5.8" stroke-linecap="butt"/>
<line x1="961.5" y1="1351.65" x2="966.8" y2="1351.65" stroke="#000" stroke-width="5.8" stroke-linecap="butt"/>
<line x1="1620.5" y1="1351.65" x2="1626" y2="1351.65" stroke="#000" stroke-width="5.8" stroke-linecap="butt"/>
<line x1="1093.7" y1="1408.5" x2="1093.7" y2="1417.7" stroke="#000" stroke-width="5.8" stroke-linecap="butt"/>
<line x1="1093.7" y1="883.5" x2="1093.7" y2="893" stroke="#000" stroke-width="5.8" stroke-linecap="butt"/>
<line x1="1227.1" y1="1408.5" x2="1227.1" y2="1417.7" stroke="#000" stroke-width="5.8" stroke-linecap="butt"/>
<line x1="1227.1" y1="883.5" x2="1227.1" y2="893" stroke="#000" stroke-width="5.8" stroke-linecap="butt"/>
<line x1="1360.5" y1="1408.5" x2="1360.5" y2="1417.7" stroke="#000" stroke-width="5.8" stroke-linecap="butt"/>
<line x1="1360.5" y1="883.5" x2="1360.5" y2="893" stroke="#000" stroke-width="5.8" stroke-linecap="butt"/>
<line x1="1493.9" y1="1408.5" x2="1493.9" y2="1417.7" stroke="#000" stroke-width="5.8" stroke-linecap="butt"/>
<line x1="1493.9" y1="883.5" x2="1493.9" y2="893" stroke="#000" stroke-width="5.8" stroke-linecap="butt"/>
<line x1="1027" y1="1413" x2="1027" y2="1417.7" stroke="#000" stroke-width="5.8" stroke-linecap="butt"/>
<line x1="1027" y1="883.5" x2="1027" y2="887.8" stroke="#000" stroke-width="5.8" stroke-linecap="butt"/>
<line x1="1160.4" y1="1413" x2="1160.4" y2="1417.7" stroke="#000" stroke-width="5.8" stroke-linecap="butt"/>
<line x1="1160.4" y1="883.5" x2="1160.4" y2="887.8" stroke="#000" stroke-width="5.8" stroke-linecap="butt"/>
<line x1="1293.8" y1="1413" x2="1293.8" y2="1417.7" stroke="#000" stroke-width="5.8" stroke-linecap="butt"/>
<line x1="1293.8" y1="883.5" x2="1293.8" y2="887.8" stroke="#000" stroke-width="5.8" stroke-linecap="butt"/>
<line x1="1427.2" y1="1413" x2="1427.2" y2="1417.7" stroke="#000" stroke-width="5.8" stroke-linecap="butt"/>
<line x1="1427.2" y1="883.5" x2="1427.2" y2="887.8" stroke="#000" stroke-width="5.8" stroke-linecap="butt"/>
<line x1="1560.6" y1="1413" x2="1560.6" y2="1417.7" stroke="#000" stroke-width="5.8" stroke-linecap="butt"/>
<line x1="1560.6" y1="883.5" x2="1560.6" y2="887.8" stroke="#000" stroke-width="5.8" stroke-linecap="butt"/>
<text x="861.6" y="787.5" font-size="34.5">(d)</text>
<text x="950" y="894.2" font-size="36" font-weight="bold" text-anchor="end">0</text>
<text x="950" y="1028.1" font-size="36" font-weight="bold" text-anchor="end">-10</text>
<text x="950" y="1162" font-size="36" font-weight="bold" text-anchor="end">-20</text>
<text x="950" y="1295.9" font-size="36" font-weight="bold" text-anchor="end">-30</text>
<text x="950" y="1429.8" font-size="36" font-weight="bold" text-anchor="end">-40</text>
<text x="961" y="1458.2" font-size="36" font-weight="bold" text-anchor="middle">0.0</text>
<text x="1094.5" y="1458.2" font-size="36" font-weight="bold" text-anchor="middle">0.2</text>
<text x="1227.6" y="1458.2" font-size="36" font-weight="bold" text-anchor="middle">0.4</text>
<text x="1360.4" y="1458.2" font-size="36" font-weight="bold" text-anchor="middle">0.6</text>
<text x="1494" y="1458.2" font-size="36" font-weight="bold" text-anchor="middle">0.8</text>
<text x="1627" y="1458.2" font-size="36" font-weight="bold" text-anchor="middle">1.0</text>
<text x="1292.7" y="1503.6" font-size="39.8" font-weight="bold" text-anchor="middle">Voltage [V]</text>
<text transform="translate(884.4,1151.0) rotate(-90)" font-size="39.2" font-weight="bold" text-anchor="middle">Current density [mA/cm<tspan font-size="26" font-weight="normal" dy="-16">2</tspan><tspan dy="16">]</tspan></text>
</svg>
</body></html>
